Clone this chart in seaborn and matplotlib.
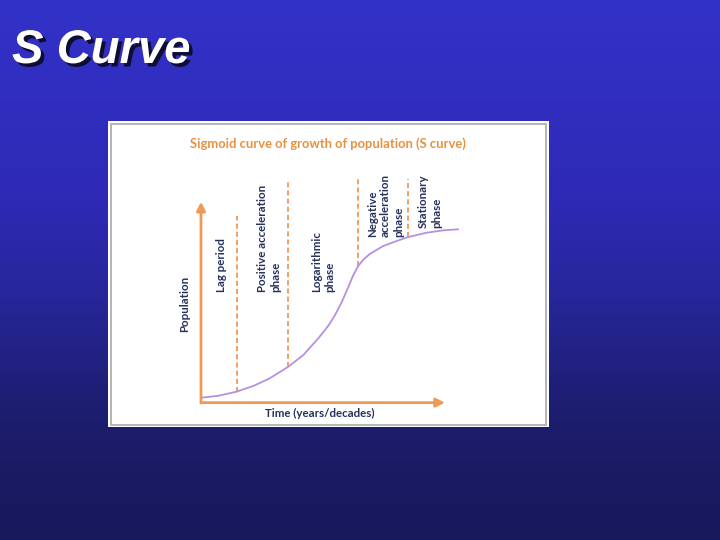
import numpy as np
import pandas as pd
import matplotlib
matplotlib.use("Agg")
import matplotlib.pyplot as plt
import matplotlib.patheffects as pe
from matplotlib.patches import Rectangle
import seaborn as sns

# ---- data ----
time = [0.03, 0.67, 1.38, 2.02, 2.66, 3.37, 3.95, 4.53, 4.92, 5.17, 5.43, 5.69, 5.87,
        6.07, 6.29, 6.53, 7.04, 7.56, 8.00, 8.71, 9.36, 9.93]
population = [3.1, 4.2, 6.6, 9.9, 14.4, 21.1, 27.9, 37.6, 45.0, 51.0, 58.5, 67.5, 74.0,
              79.7, 83.7, 86.8, 91.3, 94.2, 96.5, 99.0, 100.4, 101.0]

phase_time = [1.38, 3.37, 6.07, 8.00]
phase_bottom = [6.6, 21.1, 79.7, 96.5]
phase_top = [109.0, 130.0, 131.5, 130.0]

phase_labels = ["Lag period", "Positive acceleration\nphase", "Logarithmic\nphase",
                "Negative\nacceleration\nphase", "Stationary\nphase"]
label_time = [0.80, 2.64, 4.73, 7.12, 8.83]
label_pop = [64.7, 64.7, 64.7, 96.7, 101.6]

slide_title = "S Curve"
chart_title = "Sigmoid curve of growth of population (S curve)"
x_label = "Time (years/decades)"
y_label = "Population"

sns.set_style("white")
plt.rcParams['font.family'] = ['Lato', 'DejaVu Sans']

W, H = 720, 540
fig = plt.figure(figsize=(7.2, 5.4), dpi=100)

# background gradient
bg = fig.add_axes([0, 0, 1, 1], zorder=-5)
stops_y = np.array([0, 200, 300, 400, 480, 540]) / 540
stops_c = np.array([(51, 50, 200), (46, 42, 182), (38, 38, 152),
                    (30, 30, 115), (26, 26, 98), (24, 24, 92)]) / 255
yy = np.linspace(0, 1, 540)
grad = np.stack([np.interp(yy, stops_y, stops_c[:, k]) for k in range(3)], axis=-1)
grad = np.repeat(grad[:, None, :], 4, axis=1)
bg.imshow(grad, aspect='auto', extent=[0, 1, 1, 0])
bg.set_xlim(0, 1); bg.set_ylim(1, 0)
bg.axis('off')

def fx(px):
    return px / W

def fy(py):
    return (H - py) / H

# white panel with grey frame
fig.patches.append(Rectangle((fx(108), fy(427)), 441 / W, 306 / H, transform=fig.transFigure,
                             facecolor='white', edgecolor='none', zorder=1))
fig.patches.append(Rectangle((fx(111), fy(424.5)), 435 / W, 300.5 / H, transform=fig.transFigure,
                             facecolor='white', edgecolor='#b4b4b4', linewidth=1.4, zorder=1))

# slide title
fig.text(fx(12), fy(63), slide_title, color='white', fontsize=34, fontweight='bold',
         fontstyle='italic', family=['Liberation Sans', 'DejaVu Sans'], va='baseline', ha='left',
         path_effects=[pe.SimplePatchShadow(offset=(2.5, -2.5), shadow_rgbFace=(0.04, 0.04, 0.15), alpha=0.9),
                       pe.Normal()], zorder=3)

# chart axes
ax = fig.add_axes([fx(201), fy(403), 259 / W, (403 - 170.8) / H], zorder=5)
ax.set_facecolor('none')
ax.set_xlim(0, 10)
ax.set_ylim(0, 135)
ax.axis('off')

orange = '#ee9a55'
navy = '#26315c'

df = pd.DataFrame({"time": time, "population": population})
sns.lineplot(data=df, x="time", y="population", ax=ax, color='#b690e2', linewidth=1.3,
             clip_on=False, zorder=3, solid_joinstyle='round')

for t, b, tp in zip(phase_time, phase_bottom, phase_top):
    ax.plot([t, t], [b, tp], color='#f0a062', linewidth=1.4, dashes=(2.6, 1.6), clip_on=False, zorder=2)

ax.annotate('', xy=(9.42, 0.2), xytext=(0, 0.2),
            arrowprops=dict(arrowstyle='-|>', color=orange, lw=2.0, mutation_scale=13,
                            shrinkA=0, shrinkB=0), annotation_clip=False)
ax.annotate('', xy=(0, 117), xytext=(0, 0),
            arrowprops=dict(arrowstyle='-|>', color=orange, lw=2.0, mutation_scale=13,
                            shrinkA=0, shrinkB=0), annotation_clip=False)

for lab, t, p in zip(phase_labels, label_time, label_pop):
    ax.text(t, p, lab, rotation=90, rotation_mode='anchor', ha='left', va='center',
            multialignment='left', fontsize=8.3, fontweight='bold', color=navy, linespacing=1.25)

ax.text(-0.63, 57.6, y_label, rotation=90, ha='center', va='center', fontsize=8.3,
        fontweight='bold', color=navy)
ax.text(4.58, -6.0, x_label, ha='center', va='center', fontsize=8.3, fontweight='bold', color=navy)
ax.text(4.92, 151, chart_title, ha='center', va='center', fontsize=9.4, fontweight='bold', color='#e8913f')

fig.savefig("out.png", dpi=100)
